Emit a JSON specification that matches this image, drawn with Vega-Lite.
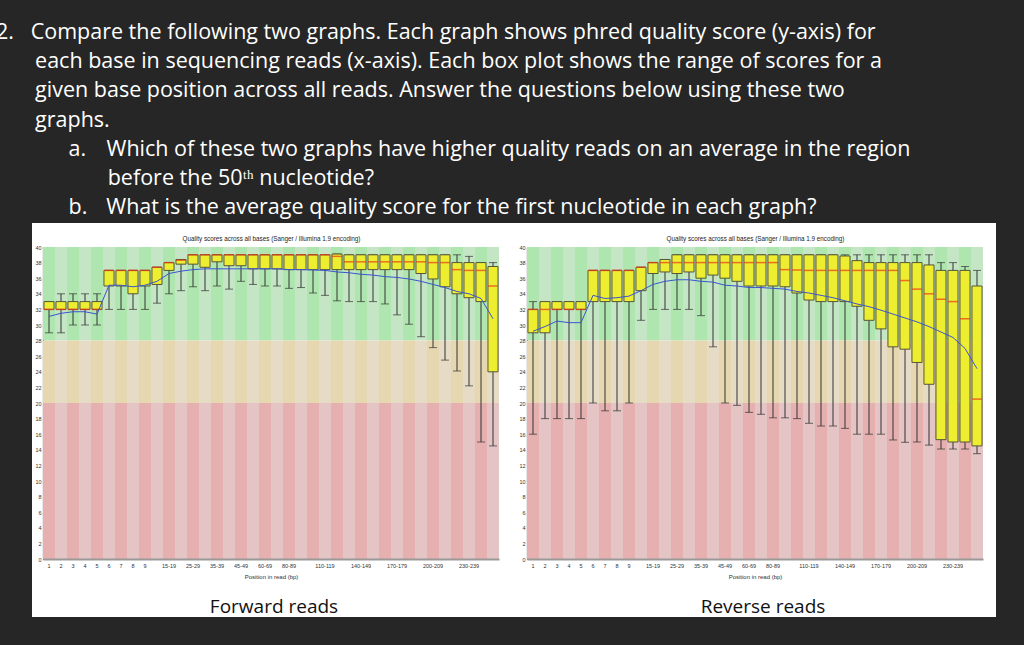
{
  "$schema": "https://vega.github.io/schema/vega-lite/v6.json",
  "background": "#262626",
  "padding": {"left": -4, "right": 28, "top": 21, "bottom": 28},
  "title": {
    "text": [
      "2.\u00a0\u00a0\u00a0Compare the following two graphs. Each graph shows phred quality score (y-axis) for",
      "\u200b\u00a0\u00a0\u00a0\u00a0\u00a0\u00a0\u00a0each base in sequencing reads (x-axis). Each box plot shows the range of scores for a",
      "\u200b\u00a0\u00a0\u00a0\u00a0\u00a0\u00a0\u00a0given base position across all reads. Answer the questions below using these two",
      "\u200b\u00a0\u00a0\u00a0\u00a0\u00a0\u00a0\u00a0graphs.",
      "\u200b\u00a0\u00a0\u00a0\u00a0\u00a0\u00a0\u00a0\u00a0\u00a0\u00a0\u00a0\u00a0\u00a0a.\u00a0\u00a0\u00a0\u2009Which of these two graphs have higher quality reads on an average in the region",
      "\u200b\u00a0\u00a0\u00a0\u00a0\u00a0\u00a0\u00a0\u00a0\u00a0\u00a0\u00a0\u00a0\u00a0\u00a0\u00a0\u00a0\u00a0\u00a0\u00a0\u00a0before the 50ᵗʰ nucleotide?",
      "\u200b\u00a0\u00a0\u00a0\u00a0\u00a0\u00a0\u00a0\u00a0\u00a0\u00a0\u00a0\u00a0\u00a0b.\u00a0\u00a0\u00a0\u200aWhat is the average quality score for the first nucleotide in each graph?"
    ],
    "anchor": "start",
    "frame": "group",
    "dx": -36,
    "offset": 4,
    "font": "Open Sans",
    "fontSize": 21.5,
    "fontWeight": "normal",
    "color": "#ffffff",
    "lineHeight": 29.3
  },
  "datasets": {
    "fwd": [
      {"i": 0, "pos": "1", "lo": 29, "q1": 32, "med": 32, "q3": 33, "hi": 33, "mean": 31.1},
      {"i": 1, "pos": "2", "lo": 29, "q1": 32, "med": 32, "q3": 33, "hi": 34, "mean": 31.5},
      {"i": 2, "pos": "3", "lo": 30, "q1": 32, "med": 32, "q3": 33, "hi": 34, "mean": 31.7},
      {"i": 3, "pos": "4", "lo": 30, "q1": 32, "med": 32, "q3": 33, "hi": 34, "mean": 31.7},
      {"i": 4, "pos": "5", "lo": 30, "q1": 32, "med": 32, "q3": 33, "hi": 34, "mean": 31.4},
      {"i": 5, "pos": "6", "lo": 32, "q1": 35, "med": 37, "q3": 37, "hi": 37, "mean": 35.1},
      {"i": 6, "pos": "7", "lo": 32, "q1": 35, "med": 37, "q3": 37, "hi": 37, "mean": 35.1},
      {"i": 7, "pos": "8", "lo": 32, "q1": 34, "med": 37, "q3": 37, "hi": 37, "mean": 34.9},
      {"i": 8, "pos": "9", "lo": 32, "q1": 35, "med": 37, "q3": 37, "hi": 37, "mean": 35.1},
      {"i": 9, "pos": "10-14", "lo": 32.8, "q1": 35.2, "med": 37.4, "q3": 37.4, "hi": 37.4, "mean": 35.6},
      {"i": 10, "pos": "15-19", "lo": 34, "q1": 37, "med": 38, "q3": 38, "hi": 38, "mean": 36.6},
      {"i": 11, "pos": "20-24", "lo": 34.4, "q1": 37.8, "med": 38.3, "q3": 38.4, "hi": 38.4, "mean": 36.9},
      {"i": 12, "pos": "25-29", "lo": 34.9, "q1": 37.8, "med": 39, "q3": 39, "hi": 39, "mean": 37.1},
      {"i": 13, "pos": "30-34", "lo": 34.4, "q1": 37.4, "med": 39, "q3": 39, "hi": 39, "mean": 37.2},
      {"i": 14, "pos": "35-39", "lo": 35, "q1": 38.1, "med": 39, "q3": 39, "hi": 39, "mean": 37.2},
      {"i": 15, "pos": "40-44", "lo": 34.6, "q1": 37.6, "med": 39, "q3": 39, "hi": 39, "mean": 37.2},
      {"i": 16, "pos": "45-49", "lo": 35.6, "q1": 37.6, "med": 39, "q3": 39, "hi": 39, "mean": 37.2},
      {"i": 17, "pos": "50-59", "lo": 35.2, "q1": 37.2, "med": 39, "q3": 39, "hi": 39, "mean": 37.2},
      {"i": 18, "pos": "60-69", "lo": 35, "q1": 37.2, "med": 39, "q3": 39, "hi": 39, "mean": 37.2},
      {"i": 19, "pos": "70-79", "lo": 35, "q1": 37.2, "med": 39, "q3": 39, "hi": 39, "mean": 37.2},
      {"i": 20, "pos": "80-89", "lo": 34.7, "q1": 37.1, "med": 39, "q3": 39, "hi": 39, "mean": 37.1},
      {"i": 21, "pos": "90-99", "lo": 34.8, "q1": 37.1, "med": 39, "q3": 39, "hi": 39, "mean": 37.1},
      {"i": 22, "pos": "100-109", "lo": 34.1, "q1": 37.1, "med": 39, "q3": 39, "hi": 39, "mean": 37.05},
      {"i": 23, "pos": "110-119", "lo": 33.8, "q1": 37.1, "med": 39, "q3": 39, "hi": 39, "mean": 37},
      {"i": 24, "pos": "120-129", "lo": 33.1, "q1": 37.1, "med": 38.8, "q3": 39.1, "hi": 39.1, "mean": 36.8},
      {"i": 25, "pos": "130-139", "lo": 33, "q1": 37.1, "med": 38.1, "q3": 39, "hi": 39, "mean": 36.7},
      {"i": 26, "pos": "140-149", "lo": 33, "q1": 37.1, "med": 38.1, "q3": 39, "hi": 39, "mean": 36.5},
      {"i": 27, "pos": "150-159", "lo": 33, "q1": 37.1, "med": 38.1, "q3": 39, "hi": 39, "mean": 36.4},
      {"i": 28, "pos": "160-169", "lo": 32.7, "q1": 37.1, "med": 38.1, "q3": 39, "hi": 39, "mean": 36.2},
      {"i": 29, "pos": "170-179", "lo": 31.3, "q1": 37.1, "med": 38.1, "q3": 39, "hi": 39, "mean": 36.1},
      {"i": 30, "pos": "180-189", "lo": 30.1, "q1": 37.1, "med": 38.1, "q3": 39, "hi": 39, "mean": 35.9},
      {"i": 31, "pos": "190-199", "lo": 28.5, "q1": 36.6, "med": 38.1, "q3": 39, "hi": 39, "mean": 35.6},
      {"i": 32, "pos": "200-209", "lo": 27.1, "q1": 35.9, "med": 38, "q3": 39, "hi": 39, "mean": 35.2},
      {"i": 33, "pos": "210-219", "lo": 25.5, "q1": 34.9, "med": 38, "q3": 39, "hi": 39, "mean": 34.8},
      {"i": 34, "pos": "220-229", "lo": 24.1, "q1": 34, "med": 37.1, "q3": 38, "hi": 39, "mean": 34.3},
      {"i": 35, "pos": "230-239", "lo": 22.2, "q1": 33.5, "med": 37, "q3": 38, "hi": 38.8, "mean": 34},
      {"i": 36, "pos": "240-249", "lo": 15, "q1": 33, "med": 37, "q3": 38, "hi": 38, "mean": 33.4},
      {"i": 37, "pos": "250-251", "lo": 14.5, "q1": 24, "med": 35, "q3": 37.5, "hi": 38, "mean": 30.8}
    ],
    "rev": [
      {"i": 0, "pos": "1", "lo": 16, "q1": 29, "med": 32, "q3": 32, "hi": 33, "mean": 29.2},
      {"i": 1, "pos": "2", "lo": 18, "q1": 29, "med": 32, "q3": 33, "hi": 33, "mean": 29.8},
      {"i": 2, "pos": "3", "lo": 18, "q1": 32, "med": 32, "q3": 33, "hi": 33, "mean": 30.5},
      {"i": 3, "pos": "4", "lo": 18, "q1": 32, "med": 32, "q3": 33, "hi": 33, "mean": 30.3},
      {"i": 4, "pos": "5", "lo": 18, "q1": 32, "med": 32, "q3": 33, "hi": 33, "mean": 30.3},
      {"i": 5, "pos": "6", "lo": 20, "q1": 33, "med": 37, "q3": 37, "hi": 37, "mean": 33.8},
      {"i": 6, "pos": "7", "lo": 19, "q1": 33, "med": 37, "q3": 37, "hi": 37, "mean": 33.4},
      {"i": 7, "pos": "8", "lo": 19, "q1": 33, "med": 37, "q3": 37, "hi": 37, "mean": 33.5},
      {"i": 8, "pos": "9", "lo": 20, "q1": 33, "med": 37, "q3": 37, "hi": 37, "mean": 33.7},
      {"i": 9, "pos": "10-14", "lo": 30.6, "q1": 34.4, "med": 37.4, "q3": 37.4, "hi": 37.4, "mean": 34.4},
      {"i": 10, "pos": "15-19", "lo": 32, "q1": 36.6, "med": 38, "q3": 38, "hi": 38, "mean": 35.2},
      {"i": 11, "pos": "20-24", "lo": 32, "q1": 36.8, "med": 38, "q3": 38.4, "hi": 38.4, "mean": 35.6},
      {"i": 12, "pos": "25-29", "lo": 32, "q1": 36.6, "med": 38, "q3": 39, "hi": 39, "mean": 35.8},
      {"i": 13, "pos": "30-34", "lo": 32, "q1": 36.8, "med": 38, "q3": 39, "hi": 39, "mean": 35.8},
      {"i": 14, "pos": "35-39", "lo": 31.2, "q1": 36, "med": 38, "q3": 39, "hi": 39, "mean": 35.6},
      {"i": 15, "pos": "40-44", "lo": 27.2, "q1": 36.4, "med": 38, "q3": 39, "hi": 39, "mean": 35.5},
      {"i": 16, "pos": "45-49", "lo": 20, "q1": 36, "med": 38, "q3": 39, "hi": 39, "mean": 35.1},
      {"i": 17, "pos": "50-59", "lo": 19.7, "q1": 35.6, "med": 38, "q3": 39, "hi": 39, "mean": 35},
      {"i": 18, "pos": "60-69", "lo": 18.8, "q1": 35, "med": 38, "q3": 39, "hi": 39, "mean": 34.8},
      {"i": 19, "pos": "70-79", "lo": 18.55, "q1": 35, "med": 38, "q3": 39, "hi": 39, "mean": 34.8},
      {"i": 20, "pos": "80-89", "lo": 18.1, "q1": 35, "med": 38, "q3": 39, "hi": 39, "mean": 34.7},
      {"i": 21, "pos": "90-99", "lo": 18.1, "q1": 34.9, "med": 37.1, "q3": 39, "hi": 39, "mean": 34.6},
      {"i": 22, "pos": "100-109", "lo": 18, "q1": 34.1, "med": 37.05, "q3": 39, "hi": 39, "mean": 34.3},
      {"i": 23, "pos": "110-119", "lo": 17.4, "q1": 33.2, "med": 37, "q3": 39, "hi": 39, "mean": 34.1},
      {"i": 24, "pos": "120-129", "lo": 17.05, "q1": 33, "med": 37, "q3": 39, "hi": 39, "mean": 33.8},
      {"i": 25, "pos": "130-139", "lo": 17.05, "q1": 33, "med": 37, "q3": 39, "hi": 39, "mean": 33.5},
      {"i": 26, "pos": "140-149", "lo": 16.75, "q1": 33, "med": 37, "q3": 38.85, "hi": 39, "mean": 33.1},
      {"i": 27, "pos": "150-159", "lo": 16, "q1": 32.4, "med": 37, "q3": 38.25, "hi": 39, "mean": 32.7},
      {"i": 28, "pos": "160-169", "lo": 16, "q1": 30.6, "med": 37, "q3": 38, "hi": 39, "mean": 32.35},
      {"i": 29, "pos": "170-179", "lo": 16, "q1": 29.5, "med": 37, "q3": 38, "hi": 39, "mean": 31.9},
      {"i": 30, "pos": "180-189", "lo": 15.26, "q1": 27.2, "med": 37, "q3": 38, "hi": 39, "mean": 31.4},
      {"i": 31, "pos": "190-199", "lo": 14.96, "q1": 26.9, "med": 35.7, "q3": 38, "hi": 39, "mean": 30.9},
      {"i": 32, "pos": "200-209", "lo": 15, "q1": 25.2, "med": 34.6, "q3": 38, "hi": 39, "mean": 30.4},
      {"i": 33, "pos": "210-219", "lo": 14.6, "q1": 22.4, "med": 34, "q3": 37.7, "hi": 39, "mean": 29.8},
      {"i": 34, "pos": "220-229", "lo": 14.1, "q1": 15.3, "med": 33.3, "q3": 37, "hi": 38, "mean": 29.1},
      {"i": 35, "pos": "230-239", "lo": 14.1, "q1": 15, "med": 33, "q3": 37, "hi": 38, "mean": 28.4},
      {"i": 36, "pos": "240-249", "lo": 14.1, "q1": 15, "med": 30.8, "q3": 37, "hi": 37.5, "mean": 27},
      {"i": 37, "pos": "250-251", "lo": 13.5, "q1": 14.5, "med": 20.5, "q3": 35, "hi": 37, "mean": 24.4}
    ]
  },
  "spacing": 0,
  "hconcat": [
    {
      "width": 484,
      "height": 394,
      "data": {"name": "fwd"},
      "title": {"text": "Forward reads", "orient": "bottom", "frame": "group", "anchor": "middle", "offset": -4, "baseline": "alphabetic", "dx": 0, "font": "Open Sans", "fontSize": 19, "fontWeight": "normal", "color": "#111111"},
      "resolve": {"axis": {"x": "independent", "y": "independent"}},
      "layer": [
        {"mark": {"type": "rect"}, "encoding": {
          "x": {"field": "pos", "type": "ordinal", "sort": null, "scale": {"type": "band", "range": [11, 467], "paddingInner": 0, "paddingOuter": 0},
            "axis": {"orient": "bottom", "offset": -58, "values": ["1","2","3","4","5","6","7","8","9","15-19","25-29","35-39","45-49","60-69","80-89","110-119","140-149","170-179","200-209","230-239"], "labelAngle": 0, "labelFont": "Liberation Sans", "labelFontSize": 5.5, "labelColor": "#333333", "labelPadding": 4, "ticks": false, "domainColor": "#999999", "domainWidth": 2, "title": "Position in read (bp)", "titleFont": "Liberation Sans", "titleFontSize": 6, "titleFontWeight": "normal", "titleColor": "#333333", "titlePadding": 5, "labelOverlap": false, "grid": false}},
          "y": {"datum": 28, "type": "quantitative", "scale": {"domain": [0, 40], "range": [336, 24], "nice": false, "zero": false},
            "axis": {"orient": "left", "offset": -11, "values": [0,2,4,6,8,10,12,14,16,18,20,22,24,26,28,30,32,34,36,38,40], "ticks": false, "labelPadding": 2, "labelFont": "Liberation Sans", "labelFontSize": 5.5, "labelColor": "#333333", "domainColor": "#222222", "domainWidth": 1.2, "title": null, "grid": false, "labelOverlap": false, "labelFlush": false}},
          "y2": {"datum": 40},
          "fill": {"condition": {"test": "datum.i % 2 == 0", "value": "#afe6af"}, "value": "#c5e6c5"}}},
        {"mark": {"type": "rect"}, "encoding": {
          "x": {"field": "pos", "type": "ordinal", "sort": null, "axis": null},
          "y": {"datum": 20, "type": "quantitative", "axis": null},
          "y2": {"datum": 28},
          "fill": {"condition": {"test": "datum.i % 2 == 0", "value": "#e6d7b0"}, "value": "#e6dcc6"}}},
        {"mark": {"type": "rect"}, "encoding": {
          "x": {"field": "pos", "type": "ordinal", "sort": null, "axis": null},
          "y": {"datum": 0, "type": "quantitative", "axis": null},
          "y2": {"datum": 20},
          "fill": {"condition": {"test": "datum.i % 2 == 0", "value": "#e6afb0"}, "value": "#e4c4c4"}}},
        {"mark": {"type": "rule", "color": "#333333", "strokeWidth": 1}, "encoding": {
          "x": {"field": "pos", "type": "ordinal", "sort": null, "axis": null},
          "y": {"field": "lo", "type": "quantitative", "axis": null},
          "y2": {"field": "hi"}}},
        {"mark": {"type": "tick", "color": "#333333", "size": 8, "thickness": 1}, "encoding": {
          "x": {"field": "pos", "type": "ordinal", "sort": null, "axis": null},
          "y": {"field": "lo", "type": "quantitative", "axis": null}}},
        {"mark": {"type": "tick", "color": "#333333", "size": 8, "thickness": 1}, "encoding": {
          "x": {"field": "pos", "type": "ordinal", "sort": null, "axis": null},
          "y": {"field": "hi", "type": "quantitative", "axis": null}}},
        {"mark": {"type": "bar", "fill": "#eeee30", "stroke": "#55553a", "strokeWidth": 1, "width": {"band": 0.84}}, "encoding": {
          "x": {"field": "pos", "type": "ordinal", "sort": null, "axis": null},
          "y": {"field": "q1", "type": "quantitative", "axis": null},
          "y2": {"field": "q3"}}},
        {"mark": {"type": "tick", "color": "#e8381a", "size": 10, "thickness": 1.5}, "encoding": {
          "x": {"field": "pos", "type": "ordinal", "sort": null, "axis": null},
          "y": {"field": "med", "type": "quantitative", "axis": null}}},
        {"mark": {"type": "line", "color": "#3a55d0", "strokeWidth": 1}, "encoding": {
          "x": {"field": "pos", "type": "ordinal", "sort": null,
            "axis": {"orient": "top", "offset": -24, "labels": false, "ticks": false, "domain": false, "grid": false, "title": "Quality scores across all bases (Sanger / Illumina 1.9 encoding)", "titleFont": "Liberation Sans", "titleFontSize": 6.3, "titleFontWeight": "normal", "titleColor": "#222222", "titlePadding": 6}},
          "y": {"field": "mean", "type": "quantitative", "axis": null},
          "order": {"field": "i", "type": "quantitative"}}}
      ]
    },
    {
      "width": 480,
      "height": 394,
      "data": {"name": "rev"},
      "title": {"text": "Reverse reads", "orient": "bottom", "frame": "group", "anchor": "middle", "offset": -4, "baseline": "alphabetic", "dx": 7, "font": "Open Sans", "fontSize": 19, "fontWeight": "normal", "color": "#111111"},
      "resolve": {"axis": {"x": "independent", "y": "independent"}},
      "layer": [
        {"mark": {"type": "rect"}, "encoding": {
          "x": {"field": "pos", "type": "ordinal", "sort": null, "scale": {"type": "band", "range": [11, 467], "paddingInner": 0, "paddingOuter": 0},
            "axis": {"orient": "bottom", "offset": -58, "values": ["1","2","3","4","5","6","7","8","9","15-19","25-29","35-39","45-49","60-69","80-89","110-119","140-149","170-179","200-209","230-239"], "labelAngle": 0, "labelFont": "Liberation Sans", "labelFontSize": 5.5, "labelColor": "#333333", "labelPadding": 4, "ticks": false, "domainColor": "#999999", "domainWidth": 2, "title": "Position in read (bp)", "titleFont": "Liberation Sans", "titleFontSize": 6, "titleFontWeight": "normal", "titleColor": "#333333", "titlePadding": 5, "labelOverlap": false, "grid": false}},
          "y": {"datum": 28, "type": "quantitative", "scale": {"domain": [0, 40], "range": [336, 24], "nice": false, "zero": false},
            "axis": {"orient": "left", "offset": -11, "values": [0,2,4,6,8,10,12,14,16,18,20,22,24,26,28,30,32,34,36,38,40], "ticks": false, "labelPadding": 2, "labelFont": "Liberation Sans", "labelFontSize": 5.5, "labelColor": "#333333", "domainColor": "#222222", "domainWidth": 1.2, "title": null, "grid": false, "labelOverlap": false, "labelFlush": false}},
          "y2": {"datum": 40},
          "fill": {"condition": {"test": "datum.i % 2 == 0", "value": "#afe6af"}, "value": "#c5e6c5"}}},
        {"mark": {"type": "rect"}, "encoding": {
          "x": {"field": "pos", "type": "ordinal", "sort": null, "axis": null},
          "y": {"datum": 20, "type": "quantitative", "axis": null},
          "y2": {"datum": 28},
          "fill": {"condition": {"test": "datum.i % 2 == 0", "value": "#e6d7b0"}, "value": "#e6dcc6"}}},
        {"mark": {"type": "rect"}, "encoding": {
          "x": {"field": "pos", "type": "ordinal", "sort": null, "axis": null},
          "y": {"datum": 0, "type": "quantitative", "axis": null},
          "y2": {"datum": 20},
          "fill": {"condition": {"test": "datum.i % 2 == 0", "value": "#e6afb0"}, "value": "#e4c4c4"}}},
        {"mark": {"type": "rule", "color": "#333333", "strokeWidth": 1}, "encoding": {
          "x": {"field": "pos", "type": "ordinal", "sort": null, "axis": null},
          "y": {"field": "lo", "type": "quantitative", "axis": null},
          "y2": {"field": "hi"}}},
        {"mark": {"type": "tick", "color": "#333333", "size": 8, "thickness": 1}, "encoding": {
          "x": {"field": "pos", "type": "ordinal", "sort": null, "axis": null},
          "y": {"field": "lo", "type": "quantitative", "axis": null}}},
        {"mark": {"type": "tick", "color": "#333333", "size": 8, "thickness": 1}, "encoding": {
          "x": {"field": "pos", "type": "ordinal", "sort": null, "axis": null},
          "y": {"field": "hi", "type": "quantitative", "axis": null}}},
        {"mark": {"type": "bar", "fill": "#eeee30", "stroke": "#55553a", "strokeWidth": 1, "width": {"band": 0.84}}, "encoding": {
          "x": {"field": "pos", "type": "ordinal", "sort": null, "axis": null},
          "y": {"field": "q1", "type": "quantitative", "axis": null},
          "y2": {"field": "q3"}}},
        {"mark": {"type": "tick", "color": "#e8381a", "size": 10, "thickness": 1.5}, "encoding": {
          "x": {"field": "pos", "type": "ordinal", "sort": null, "axis": null},
          "y": {"field": "med", "type": "quantitative", "axis": null}}},
        {"mark": {"type": "line", "color": "#3a55d0", "strokeWidth": 1}, "encoding": {
          "x": {"field": "pos", "type": "ordinal", "sort": null,
            "axis": {"orient": "top", "offset": -24, "labels": false, "ticks": false, "domain": false, "grid": false, "title": "Quality scores across all bases (Sanger / Illumina 1.9 encoding)", "titleFont": "Liberation Sans", "titleFontSize": 6.3, "titleFontWeight": "normal", "titleColor": "#222222", "titlePadding": 6}},
          "y": {"field": "mean", "type": "quantitative", "axis": null},
          "order": {"field": "i", "type": "quantitative"}}}
      ]
    }
  ],
  "config": {"view": {"stroke": null, "fill": "#ffffff"}}
}
